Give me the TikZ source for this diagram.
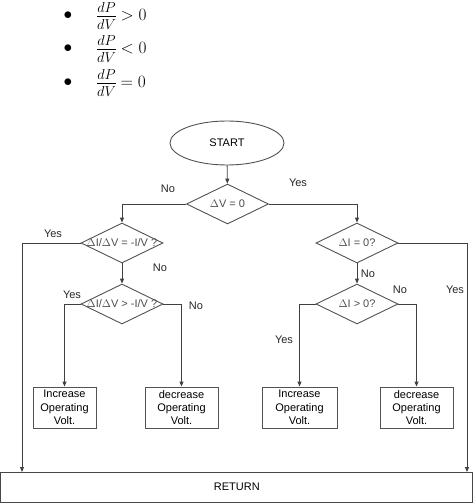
\documentclass[tikz,border=0pt]{standalone}
\usepackage{fontspec}
\setmainfont{Liberation Sans}
\usetikzlibrary{shapes.geometric,arrows.meta}
\newcommand\fpart[1]{\hbox{\fontsize{14}{14}\selectfont$#1$}}
\newcommand\dpdv{\vcenter{\offinterlineskip\halign{\hfil##\hfil\cr\fpart{dP}\cr\noalign{\kern2.8pt\hrule height 0.7pt\kern2.8pt}\fpart{dV}\cr}}}
\begin{document}
\begin{tikzpicture}[x=1pt,y=-1pt,
  every node/.style={font=\fontsize{11}{13.3}\selectfont},
  ln/.style={draw=black!75, line width=0.9pt},
  arr/.style={ln, -{Triangle[length=5pt,width=4pt]}},
  dia/.style={diamond, draw=black!68, line width=0.9pt, minimum width=82pt, minimum height=40pt, inner sep=0pt, aspect=2},
  dtext/.style={text=black!70},
  opbox/.style={rectangle, draw=black!68, line width=0.9pt, minimum height=41pt, align=center, inner sep=1pt},
  lab/.style={text=black!85},
  math/.style={font=\fontsize{18}{20}\selectfont, anchor=west, inner sep=0pt},
  bul/.style={font=\fontsize{18}{20}\selectfont, inner sep=0pt}]
\useasboundingbox (0,0) rectangle (474,503);
% bullets
\node[bul] (b1dot) at (68,16) {$\bullet$};
\node[bul] (b2dot) at (68,49) {$\bullet$};
\node[bul] (b3dot) at (68,83) {$\bullet$};
\node[math] (m1) at (97,16) {$\dpdv > 0$};
\node[math] (m2) at (97,49) {$\dpdv < 0$};
\node[math] (m3) at (97,83) {$\dpdv = 0$};
% flowchart
\node[ellipse, draw=black!68, line width=0.9pt, minimum width=114pt, minimum height=44pt] (start) at (227,143) {START};
\node[dia, label={[dtext]center:$\Delta$V = 0}] (d1) at (227.5,204) {};
\node[dia, label={[dtext]center:$\Delta$I/$\Delta$V = -I/V ?}] (d2) at (122,243) {};
\node[dia, label={[dtext]center:$\Delta$I = 0?}] (d3) at (357,243) {};
\node[dia, label={[dtext]center:$\Delta$I/$\Delta$V > -I/V ?}] (d4) at (122,304) {};
\node[dia, label={[dtext]center:$\Delta$I > 0?}] (d5) at (357,304) {};
\node[opbox, minimum width=63pt] (bx1) at (64.5,407.5) {Increase\\Operating\\Volt.};
\node[opbox, minimum width=73pt] (bx2) at (181.5,407.5) {decrease\\Operating\\Volt.};
\node[opbox, minimum width=75pt] (bx3) at (299.5,407.5) {Increase\\Operating\\Volt.};
\node[opbox, minimum width=73pt] (bx4) at (416.5,407.5) {decrease\\Operating\\Volt.};
\node[rectangle, draw=black!72, line width=0.9pt, minimum width=472pt, minimum height=30pt, inner sep=0pt] (ret) at (236.8,487) {RETURN};
\coordinate (lx) at (22,472);
\coordinate (rx) at (467,472);
% connectors
\draw[arr] (start) -- (d1);
\draw[arr] (d1.west) -| (d2.north);
\draw[arr] (d1.east) -| (d3.north);
\draw[arr] (d2.west) -| (lx);
\draw[arr] (d3.east) -| (rx);
\draw[arr] (d2) -- (d4);
\draw[arr] (d3) -- (d5);
\draw[arr] (d4.west) -| (bx1.north);
\draw[arr] (d4.east) -| (bx2.north);
\draw[arr] (d5.west) -| (bx3.north);
\draw[arr] (d5.east) -| (bx4.north);
% labels
\node[lab] (l1) at (168,189) {No};
\node[lab] (l2) at (298,183) {Yes};
\node[lab] (l3) at (53,234) {Yes};
\node[lab] (l4) at (160,268) {No};
\node[lab] (l5) at (72,295) {Yes};
\node[lab] (l6) at (196,306) {No};
\node[lab] (l7) at (368,274) {No};
\node[lab] (l8) at (400,290) {No};
\node[lab] (l9) at (455,290) {Yes};
\node[lab] (l10) at (284,340) {Yes};
\end{tikzpicture}
\end{document}
